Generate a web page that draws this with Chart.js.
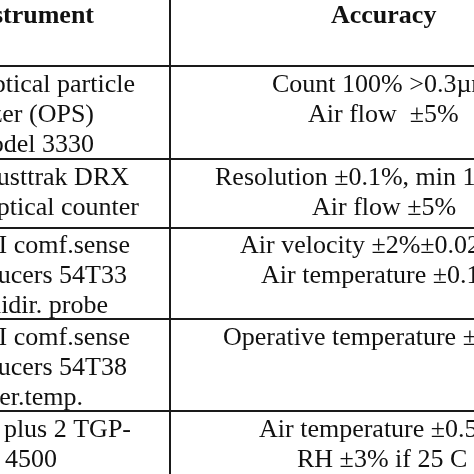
<!DOCTYPE html>
<html>
<head>
<meta charset="utf-8">
<script src="https://cdn.jsdelivr.net/npm/chart.js@4"></script>
<style>
  html, body { margin: 0; padding: 0; background: #fff; }
  canvas { display: block; }
</style>
</head>
<body>
<canvas id="table" width="474" height="474"></canvas>
<script>
// table contents (cropped view of an instrument / accuracy table)
const headers = ['Instrument', 'Accuracy'];
const instruments = [
    ['TSI Optical particle', 'sizer (OPS)', 'model 3330'],
    ['Dusttrak DRX', 'optical counter'],
    ['LSI comf.sense', 'transducers 54T33', 'omnidir. probe'],
    ['LSI comf.sense', 'transducers 54T38', 'oper.temp.'],
    ['Logging plus 2 TGP-', '4500'],
];
const accuracy = [
    ['Count 100% >0.3\u00b5m', 'Air flow  \u00b15%'],
    ['Resolution \u00b10.1%, min 1', 'Air flow \u00b15%'],
    ['Air velocity \u00b12%\u00b10.02', 'Air temperature \u00b10.1'],
    ['Operative temperature \u00b1'],
    ['Air temperature \u00b10.5', 'RH \u00b13% if 25 C'],
];

// grid in page units
const rowLines = [66, 159, 228, 319, 411];
const colLine = 170;
const lineGap = 30;
const headerBase = 23;
const firstBase = [92, 185, 253, 345, 437];
const leftEnds = [[135, 94, 94], [129, 139], [130, 127, 108], [130, 127, 83], [131, 57]];
const rightStarts = [[272, 308], [215, 312], [240, 261], [223], [259, 297]];

const datasets = rowLines.map(y => ({
    data: [{ x: -10, y: y }, { x: 484, y: y }],
    showLine: true, borderColor: '#1a1a1a', borderWidth: 2, pointRadius: 0
}));
datasets.push({
    data: [{ x: colLine, y: -10 }, { x: colLine, y: 484 }],
    showLine: true, borderColor: '#1a1a1a', borderWidth: 2, pointRadius: 0
});

const textPlugin = {
    id: 'tableText',
    afterDatasetsDraw(chart) {
        const { ctx, scales: { x, y } } = chart;
        ctx.save();
        ctx.fillStyle = '#111';
        ctx.textBaseline = 'alphabetic';
        ctx.font = 'bold 26px "Liberation Serif", serif';
        ctx.textAlign = 'right';
        ctx.fillText(headers[0], x.getPixelForValue(94), y.getPixelForValue(headerBase));
        ctx.textAlign = 'left';
        ctx.fillText(headers[1], x.getPixelForValue(331), y.getPixelForValue(headerBase));
        ctx.font = '26px "Liberation Serif", serif';
        instruments.forEach((lines, r) => {
            ctx.textAlign = 'right';
            lines.forEach((t, i) => {
                ctx.fillText(t, x.getPixelForValue(leftEnds[r][i]), y.getPixelForValue(firstBase[r] + i * lineGap));
            });
        });
        accuracy.forEach((lines, r) => {
            ctx.textAlign = 'left';
            lines.forEach((t, i) => {
                ctx.fillText(t, x.getPixelForValue(rightStarts[r][i]), y.getPixelForValue(firstBase[r] + i * lineGap));
            });
        });
        ctx.restore();
    }
};

new Chart(document.getElementById('table'), {
    type: 'scatter',
    data: { datasets: datasets },
    options: {
        responsive: false,
        animation: false,
        layout: { padding: 0 },
        clip: false,
        plugins: { legend: { display: false }, tooltip: { enabled: false } },
        scales: {
            x: { type: 'linear', min: 0, max: 474, display: false },
            y: { type: 'linear', min: 0, max: 474, reverse: true, display: false }
        }
    },
    plugins: [textPlugin]
});
</script>
</body>
</html>
